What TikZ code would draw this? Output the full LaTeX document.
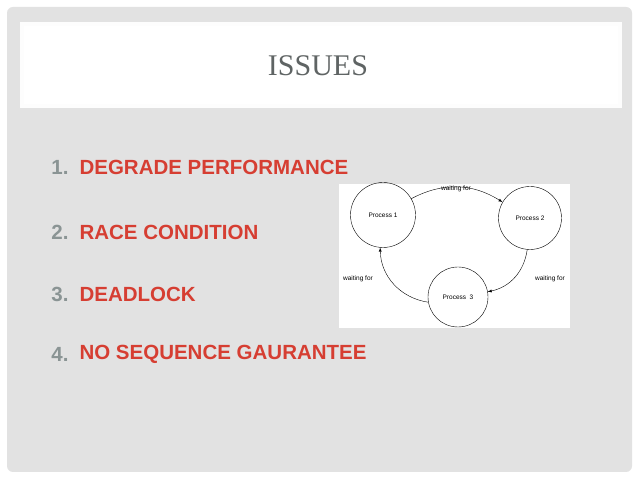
\documentclass[tikz,border=0pt]{standalone}
\usepackage{fontspec}
\setmainfont{Liberation Sans}
\newfontfamily\titlefont{Liberation Serif}
\usetikzlibrary{positioning}
\definecolor{slidegrey}{RGB}{226,226,226}
\definecolor{itemred}{RGB}{214,62,50}
\definecolor{numgrey}{RGB}{138,148,148}
\definecolor{titlegrey}{RGB}{95,100,100}
\tikzset{
    item/.style={anchor=west, font=\bfseries\fontsize{20.5}{24}\selectfont, text=itemred},
    num/.style={anchor=east, font=\bfseries\fontsize{20.5}{24}\selectfont, text=numgrey, xshift=-4pt},
    proc/.style={draw, circle, thin, minimum size=#1, inner sep=0pt, font=\fontsize{6.5}{8}\selectfont},
    wait/.style={font=\fontsize{6.5}{8}\selectfont}
}
\begin{document}
\begin{tikzpicture}[x=1pt,y=-1pt]
    \useasboundingbox (0,0) rectangle (638,478);
    \fill[white] (0,0) rectangle (638,478);
    \fill[slidegrey, rounded corners=6pt] (7,7) rectangle (632,472);
    \fill[white!95!slidegrey] (20,22) rectangle (622,108);
    \fill[white] (24,26) rectangle (618,104);
    \node[font=\titlefont\fontsize{30}{33}\selectfont, text=titlegrey] (title) at (318,66) {ISSUES};

    % list
    \node[item] (i1) at (76,167) {DEGRADE PERFORMANCE};
    \node[item] (i2) at (76,232) {RACE CONDITION};
    \node[item] (i3) at (76,294) {DEADLOCK};
    \node[item] (i4) at (76,354) {NO SEQUENCE GAURANTEE};
    \node[num] at (i1.west) {1.};
    \node[num] at (i2.west) {2.};
    \node[num] at (i3.west) {3.};
    \node[num] at (i4.west) {4.};

    % deadlock picture
    \fill[white] (339,184) rectangle (570,328);
    \node[proc=65pt] (p1) at (383,215) {Process 1};
    \node[proc=63pt] (p2) at (530,218) {Process 2};
    \node[proc=60pt] (p3) at (458,297) {Process~~3};

    \draw[->, >=latex] (p1.30) to[bend left=30] (p2.150);
    \draw[->, >=latex] (p2.265) to[bend left=35] (p3.10);
    \draw[->, >=latex] (p3.190) to[bend left=40] (p1.265);

    \node[wait] (w12) at (456,189) {waiting for};
    \node[wait] (w31) at (358,279) {waiting for};
    \node[wait] (w23) at (550,279) {waiting for};
\end{tikzpicture}
\end{document}
